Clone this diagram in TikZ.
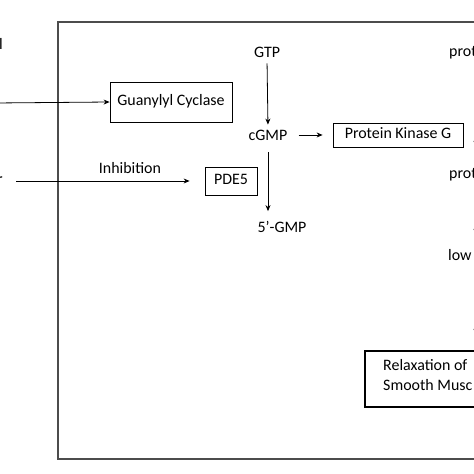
\documentclass[tikz,border=0pt]{standalone}
\usepackage{fontspec}
\setmainfont{Carlito}
\usetikzlibrary{arrows.meta}
\begin{document}
\begin{tikzpicture}[x=1bp,y=-1bp,
  font=\fontsize{16}{19}\selectfont,
  lbl/.style={inner sep=2bp},
  box/.style={draw, line width=0.8bp, inner sep=0pt, text height=11bp, text depth=3bp},
  arr/.style={-{Stealth[length=6bp,width=5bp]}, line width=0.8bp},
  frame/.style={draw=black!70, line width=1.2bp}]
\useasboundingbox (0,0) rectangle (474,474);
\clip (0,0) rectangle (474,474);
\fill[white] (0,0) rectangle (474,474);
% frame
\draw[frame] (490,22) -- (58,22) -- (58,459) -- (490,459);
% nodes
\node[box, minimum width=122bp, minimum height=40bp] (gc) at (171,102) {Guanylyl Cyclase};
\node[box, minimum width=52bp, minimum height=28bp] (pde) at (231,181) {PDE5};
\node[box, minimum width=130bp, minimum height=24bp] (pkg) at (398,135) {Protein Kinase G};
\node[lbl] (gtp) at (267,52) {GTP};
\node[lbl] (cgmp) at (268,135) {cGMP};
\node[lbl] (gmp) at (282,227) {5’-GMP};
\node[lbl] (inh) at (130,168) {Inhibition};
\node[lbl, anchor=east] (ll) at (5,44) {l};
\node[lbl, anchor=east] (rr) at (5,181) {r};
\node[lbl, anchor=west] (p1) at (447,53) {prot};
\node[lbl, anchor=west] (p2) at (447,175) {prot};
\node[lbl, anchor=west] (lw) at (446,255) {low};
% relaxation box
\draw[line width=2.5bp] (365,351) rectangle (500,407);
\node[lbl, anchor=west] (rel1) at (381,365) {Relaxation of};
\node[lbl, anchor=west] (rel2) at (381,385) {Smooth Musc};
% connectors
\coordinate (gin) at (-5,103);
\coordinate (iin) at (16,181);
\draw[arr] (gin) -- (gc.west);
\draw[arr, shorten >=15bp] (iin) -- (pde.west);
\draw[arr, shorten <=4bp, shorten >=3bp] (gtp.south) -- (cgmp.north);
\draw[arr, shorten <=9bp, shorten >=10bp] (cgmp.east) -- (pkg.west);
\draw[arr, shorten <=10bp, shorten >=8bp] (cgmp.south) -- (cgmp.south |- gmp.north);
% clipped arrow tips at right edge
\coordinate (t1s) at (476,130); \coordinate (t1e) at (476,147);
\coordinate (t2s) at (476,215); \coordinate (t2e) at (476,235);
\coordinate (t3s) at (476,310); \coordinate (t3e) at (476,335);
\draw[arr] (t1s) -- (t1e);
\draw[arr] (t2s) -- (t2e);
\draw[arr] (t3s) -- (t3e);
\end{tikzpicture}
\end{document}
